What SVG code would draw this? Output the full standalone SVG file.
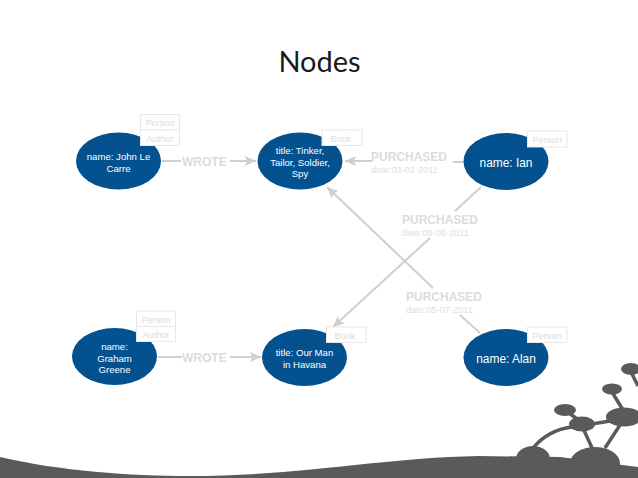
<svg xmlns="http://www.w3.org/2000/svg" width="638" height="478" viewBox="0 0 638 478">
<style>
text{font-family:"Liberation Sans",Arial,sans-serif}
.n{fill:#03528f}
.t{fill:#fff;font-size:9.6px;text-anchor:middle}
.b{fill:#fff;font-size:11.9px;text-anchor:middle}
.l{fill:#fff;stroke:#e8e8e8;stroke-width:1}
.lt{fill:#dcdcdc;font-size:9.2px;text-anchor:middle}
.c{fill:none;stroke:#cfcfcf;stroke-width:2}
.r{fill:#dcdcdc;font-size:12px;font-weight:bold}
.d{fill:#dedede;font-size:9.2px}
.f{fill:#5a5a5a}
.s{fill:none;stroke:#5a5a5a;stroke-width:3.500}
</style>
<defs><marker id="a" markerUnits="userSpaceOnUse" markerWidth="12" markerHeight="12" refX="11" refY="5" orient="auto"><path d="M0 0L11 5L0 10L2 5Z" fill="#cfcfcf"/></marker></defs>
<rect width="638" height="478" fill="#fff"/>
<text x="319.500" y="72" font-size="29" text-anchor="middle" fill="#1a1a1a" style="font-family:Lato,'Liberation Sans',sans-serif">Nodes</text>

<g id="connectors">
<path class="c" d="M162 161H181"/><path class="c" d="M230 161H256" marker-end="url(#a)"/>
<path class="c" d="M158 357H182"/><path class="c" d="M230 357H261" marker-end="url(#a)"/>
<path class="c" d="M463 162H453"/><path class="c" d="M372 161H345" marker-end="url(#a)"/>
<path class="c" d="M481 187L455 211"/><path class="c" d="M430 238L333 327" marker-end="url(#a)"/>
<path class="c" d="M480 333L460 315"/><path class="c" d="M433 288L327 187" marker-end="url(#a)"/>
<text class="r" x="182" y="166">WROTE</text>
<text class="r" x="182" y="362">WROTE</text>
<text class="r" x="371" y="161">PURCHASED</text>
<text class="d" x="371" y="172.500">date:03-02-2011</text>
<text class="r" x="402" y="224">PURCHASED</text>
<text class="d" x="402" y="236">date:09-09-2011</text>
<text class="r" x="406" y="301">PURCHASED</text>
<text class="d" x="406" y="313">date:05-07-2011</text>
</g>

<g id="john">
<rect class="l" x="140.500" y="114.500" width="39" height="15.500"/><text class="lt" x="160" y="126">Person</text>
<ellipse class="n" cx="118.500" cy="161" rx="42.500" ry="28.500"/>
<rect class="l" x="140.500" y="130" width="39" height="15.500"/><text class="lt" x="160" y="141.500">Author</text>
<text class="t" x="118.500" y="160">name: John Le</text><text class="t" x="118.500" y="171.500">Carre</text>
</g>
<g id="tinker">
<ellipse class="n" cx="300" cy="161" rx="42.500" ry="28.500"/>
<rect class="l" x="322" y="130" width="40" height="15.500"/><text class="lt" x="341" y="141.500">Book</text>
<text class="t" x="300" y="154">title: Tinker,</text><text class="t" x="300" y="165.500">Tailor, Soldier,</text><text class="t" x="300" y="177">Spy</text>
</g>
<g id="ian">
<ellipse class="n" cx="506" cy="161.500" rx="42.500" ry="28.500"/>
<rect class="l" x="527.500" y="131" width="39.500" height="16"/><text class="lt" x="547" y="143">Person</text>
<text class="b" x="506" y="167">name: Ian</text>
</g>
<g id="graham">
<rect class="l" x="136.500" y="311" width="39" height="15.500"/><text class="lt" x="156" y="322.500">Person</text>
<ellipse class="n" cx="114.500" cy="356.500" rx="42.500" ry="28.500"/>
<rect class="l" x="136.500" y="326.500" width="39" height="15"/><text class="lt" x="156" y="338">Author</text>
<text class="t" x="114.500" y="350">name:</text><text class="t" x="114.500" y="361.500">Graham</text><text class="t" x="114.500" y="373">Greene</text>
</g>
<g id="havana">
<ellipse class="n" cx="304.500" cy="357.500" rx="42.500" ry="28.500"/>
<rect class="l" x="326.500" y="327" width="39.500" height="15.500"/><text class="lt" x="345" y="339">Book</text>
<text class="t" x="304.500" y="356">title: Our Man</text><text class="t" x="304.500" y="367.500">in Havana</text>
</g>
<g id="alan">
<ellipse class="n" cx="506" cy="357.500" rx="42.500" ry="28.500"/>
<rect class="l" x="527.500" y="327" width="39.500" height="15.500"/><text class="lt" x="547" y="339">Person</text>
<text class="b" x="506" y="363">name: Alan</text>
</g>

<path class="f" d="M0 457C60 471 130 476 190 476C300 476 380 458 478 456L560 457L638 467V478H0Z"/>
<path class="s" d="M533 448C543 436 556 429 572 427M592 424L610 421M582 426L593 450M605 448L620 425M612 392L623 410M565 410L577 419M631 372L638 386"/>
<ellipse class="f" cx="533" cy="459" rx="17" ry="13"/>
<ellipse class="f" cx="595" cy="463" rx="25" ry="16"/>
<ellipse class="f" cx="582" cy="424" rx="13" ry="7.500"/>
<ellipse class="f" cx="565" cy="410" rx="11" ry="6"/>
<ellipse class="f" cx="612" cy="389" rx="10" ry="5.500"/>
<ellipse class="f" cx="624" cy="417" rx="18" ry="9.500"/>
<ellipse class="f" cx="631" cy="369" rx="10" ry="6"/>
</svg>
